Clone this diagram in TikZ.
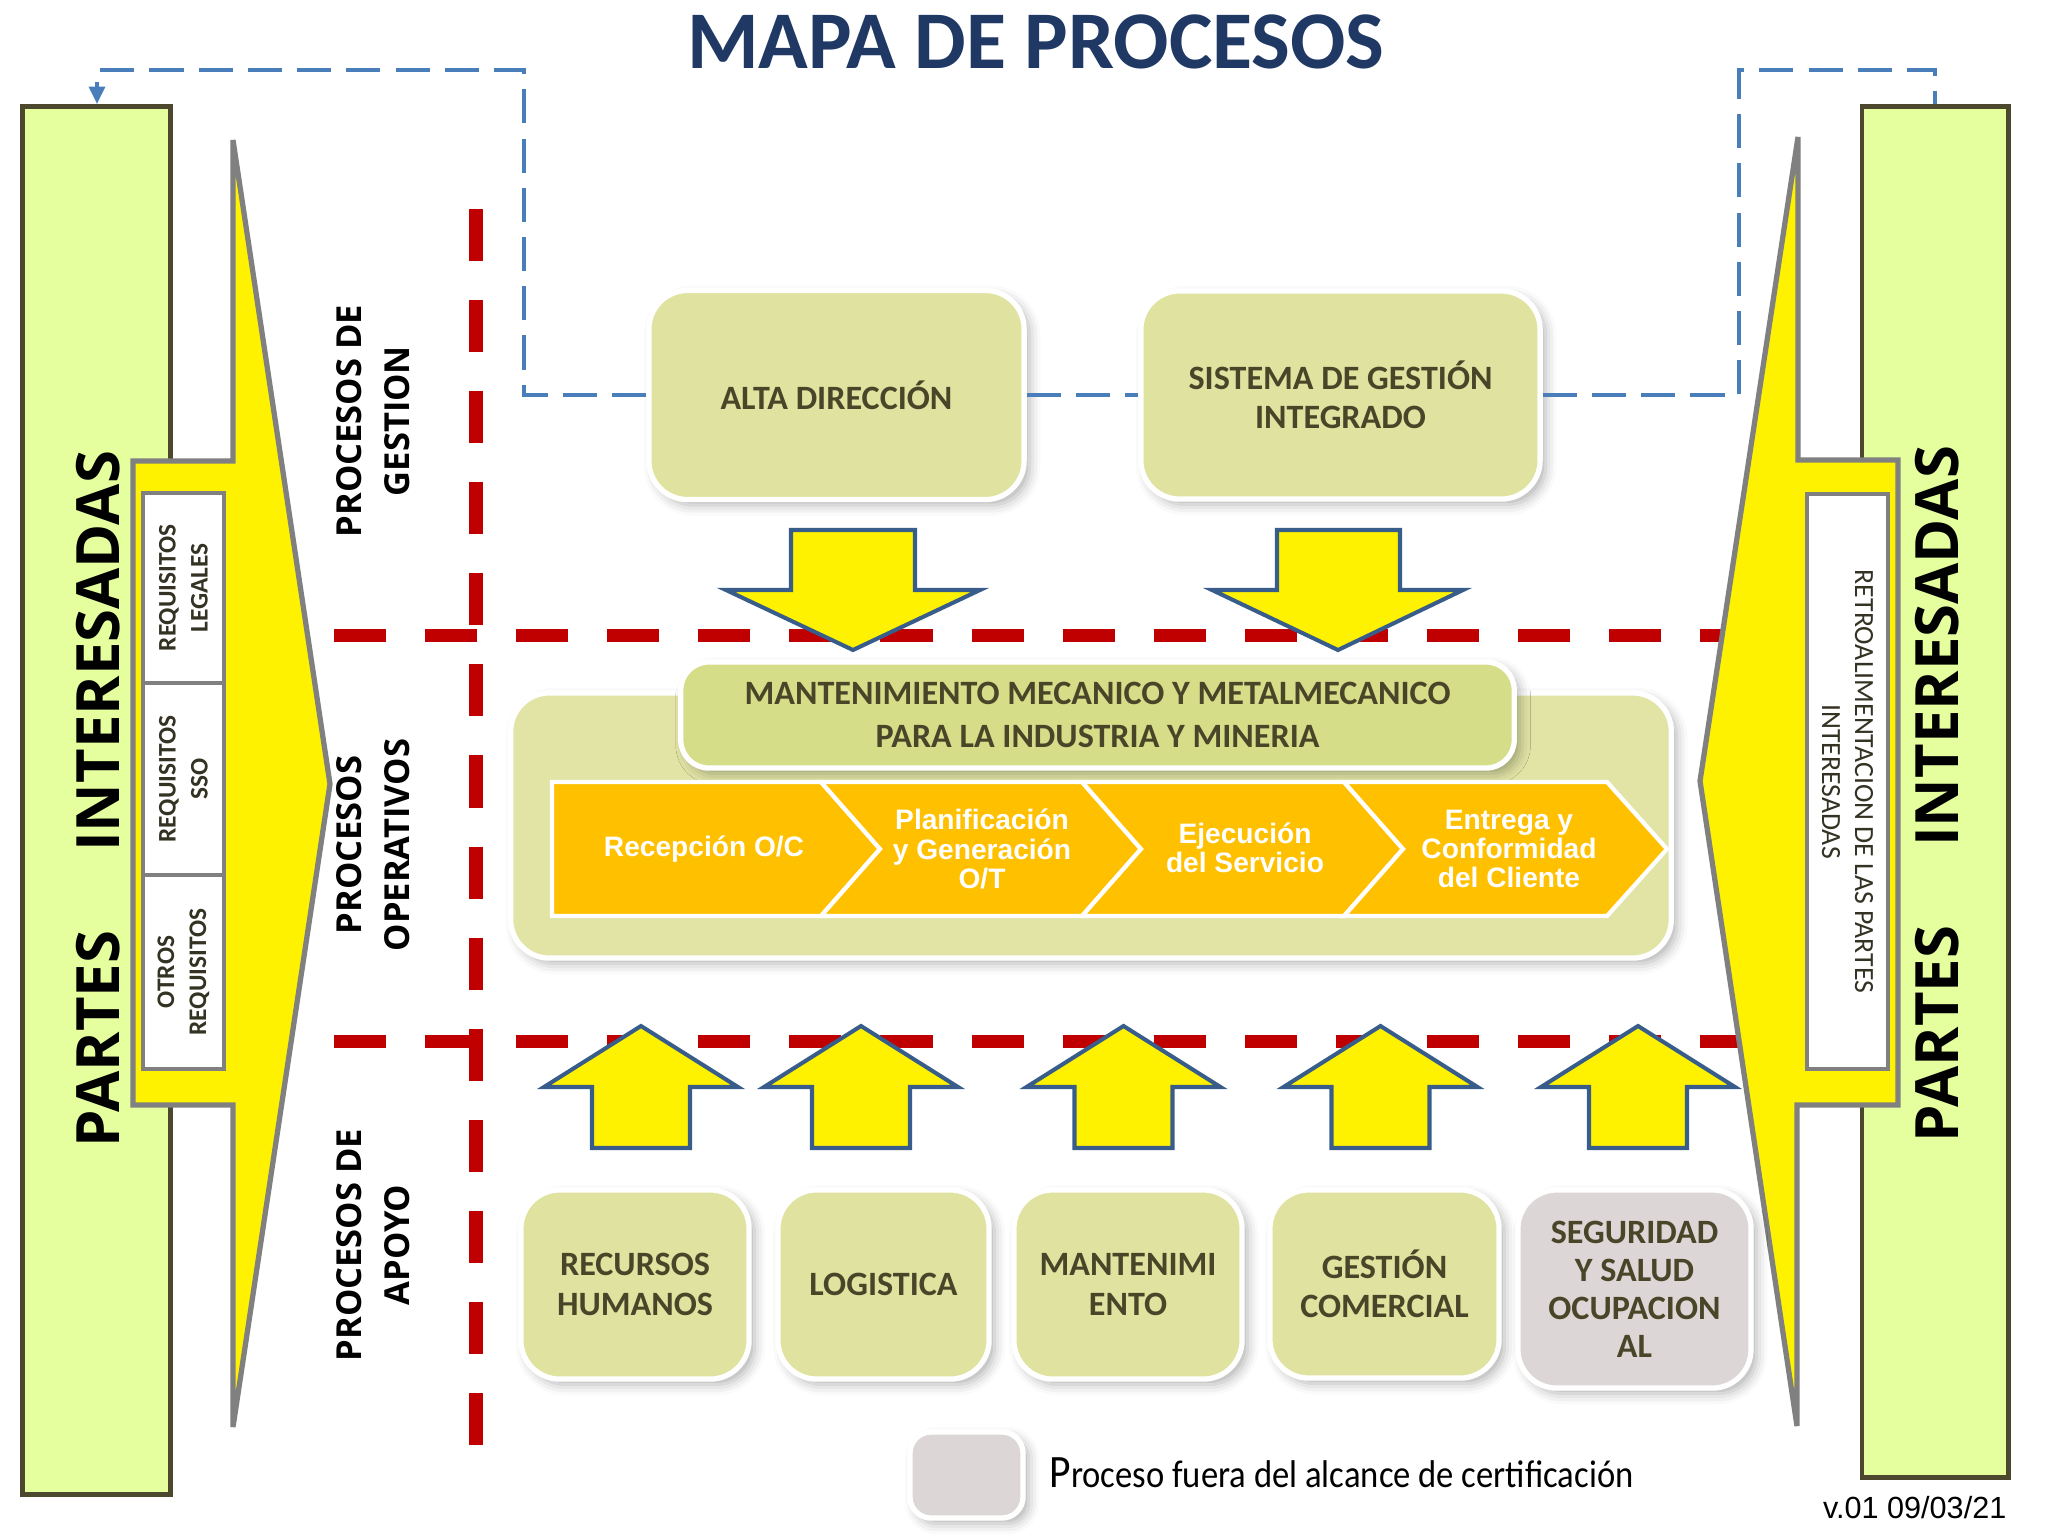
\documentclass[tikz,border=0pt]{standalone}
\usepackage{fontspec}
\setmainfont{Carlito}
\newfontfamily\osans{Open Sans}
\newfontfamily\arialf{Liberation Sans}
\usetikzlibrary{shadows.blur,arrows.meta}
\definecolor{gfill}{RGB}{229,255,158}
\definecolor{gborder}{RGB}{75,72,45}
\definecolor{gline}{RGB}{128,128,128}
\definecolor{olivebox}{RGB}{224,226,160}
\definecolor{contfill}{RGB}{226,228,166}
\definecolor{hdrfill}{RGB}{214,221,136}
\definecolor{mauve}{RGB}{221,214,214}
\definecolor{amber}{RGB}{255,192,0}
\definecolor{dblue}{RGB}{74,126,187}
\definecolor{arrowblue}{RGB}{56,93,138}
\definecolor{dred}{RGB}{192,0,0}
\definecolor{titleblue}{RGB}{31,56,100}
\definecolor{olivetext}{RGB}{73,69,41}
\definecolor{reqtext}{RGB}{52,50,34}
\begin{document}
\begin{tikzpicture}[x=0.01cm,y=-0.01cm,
  reddash/.style={draw=dred,line width=3.7pt,dash pattern=on 14.8pt off 11.1pt},
  bluedash/.style={draw=dblue,line width=1.15pt,dash pattern=on 9.7pt off 4.3pt},
  gbar/.style={draw=gborder,line width=1.4pt,fill=gfill,inner sep=0pt},
  bigarrow/.style={fill=yellow,draw=gline,line width=1.5pt},
  reqbox/.style={draw=gline,line width=1.2pt,fill=white,text=reqtext,align=center,inner sep=0pt,
    font=\fontsize{7.2}{9.1}\selectfont\bfseries},
  pbox/.style={draw=white,line width=1.5pt,rounded corners=11pt,fill=olivebox,
    blur shadow={shadow xshift=1.6pt,shadow yshift=-1.6pt,shadow blur radius=3pt,shadow opacity=30},
    font=\fontsize{9.7}{11.2}\selectfont\bfseries,text=olivetext,align=center,inner sep=2pt},
  blockarrow/.style={fill=yellow,draw=arrowblue,line width=1.15pt},
  chev/.style={fill=amber,draw=white,line width=1.2pt},
  chevtext/.style={text=white,font=\arialf\bfseries\fontsize{8}{8.3}\selectfont,align=center},
  sidelabel/.style={rotate=90,font=\osans\bfseries\fontsize{9.8}{13.7}\selectfont,align=center},
  pitext/.style={rotate=90,font=\osans\bfseries\fontsize{17}{20}\selectfont,inner sep=0pt}]
\useasboundingbox (0,0) rectangle (2048,1536);

% red dashed separators
\draw[reddash] (476,209) -- (476,1445);
\draw[reddash] (334,635) -- (1745,635);
\draw[reddash] (334,1041) -- (1760,1041);

% side bars
\node[gbar,minimum width=1.47cm,minimum height=13.87cm] (leftpi) at (96.5,800.5) {};
\node[gbar,minimum width=1.46cm,minimum height=13.70cm] (rightpi) at (1935,792) {};

% big yellow arrows
\draw[bigarrow] (233,140) -- (330,784) -- (233,1427) -- (233,1105) -- (133,1105) -- (133,461) -- (233,461) -- cycle;
\draw[bigarrow] (1798,137) -- (1700,781) -- (1797,1426) -- (1797,1105) -- (1898,1105) -- (1898,460) -- (1798,460) -- cycle;

% requirement boxes
\node[reqbox,rotate=90,minimum width=1.90cm,minimum height=0.81cm] (rq1) at (183.5,588) {REQUISITOS\\LEGALES};
\node[reqbox,rotate=90,minimum width=1.92cm,minimum height=0.81cm] (rq2) at (183.5,779) {REQUISITOS\\SSO};
\node[reqbox,rotate=90,minimum width=1.94cm,minimum height=0.81cm] (rq3) at (183.5,972) {OTROS\\REQUISITOS};
\node[reqbox,rotate=-90,minimum width=5.75cm,minimum height=0.81cm,
  font=\fontsize{7.9}{9.4}\selectfont] (retro) at (1847.5,781.5) {RETROALIMENTACION DE LAS PARTES\\INTERESADAS};

% PARTES INTERESADAS
\node[pitext] (ptl) at (98,799) {PARTES\ \hspace{18pt}INTERESADAS};
\node[pitext] (ptr) at (1937.5,794) {PARTES\ \hspace{18pt}INTERESADAS};

% side labels
\node[sidelabel] (lg) at (373.5,421) {PROCESOS DE\\GESTION};
\node[sidelabel] (lo) at (373.5,845) {PROCESOS\\OPERATIVOS};
\node[sidelabel] (la) at (373.5,1245) {PROCESOS DE\\APOYO};

% management boxes
\node[pbox,minimum width=3.75cm,minimum height=2.09cm] (alta) at (836.5,395) {ALTA DIRECCIÓN};
\node[pbox,minimum width=3.99cm,minimum height=2.08cm] (sgi) at (1340.5,395) {SISTEMA DE GESTIÓN\\INTEGRADO};

% blue dashed feedback
\coordinate (b1) at (524,70);
\coordinate (b2) at (97,70);
\coordinate (b3) at (1739,70);
\coordinate (b4) at (1935,70);
\draw[bluedash,-{Triangle[length=5pt,width=4.5pt]}] (alta.west) -| (b1) -- (b2) -- (b2 |- leftpi.north);
\draw[bluedash] (sgi.east) -| (b3) -- (b4) -- (rightpi.north);
\draw[bluedash] (alta.east) -- (sgi.west);

% down arrows
\draw[blockarrow] (791,530) -- (915,530) -- (915,590) -- (980,590) -- (853,650) -- (726,590) -- (791,590) -- cycle;
\draw[blockarrow] (1277,530) -- (1400,530) -- (1400,590) -- (1463,590) -- (1338,650) -- (1212,590) -- (1277,590) -- cycle;

% operational block
\node[pbox,fill=contfill,minimum width=11.6cm,minimum height=2.65cm] (ops) at (1091,825.5) {};
\node[pbox,fill=hdrfill,rounded corners=8pt,minimum width=8.33cm,minimum height=1.06cm,
  font=\fontsize{9.7}{12}\selectfont\bfseries] (hdr) at (1097.5,715) {MANTENIMIENTO MECANICO Y METALMECANICO\\PARA LA INDUSTRIA Y MINERIA};

\draw[chev] (552,782) -- (821,782) -- (880,849) -- (821,916) -- (552,916) -- cycle;
\draw[chev] (821,782) -- (1082,782) -- (1141,849) -- (1082,916) -- (821,916) -- (880,849) -- cycle;
\draw[chev] (1082,782) -- (1344,782) -- (1403,849) -- (1344,916) -- (1082,916) -- (1141,849) -- cycle;
\draw[chev] (1344,782) -- (1607,782) -- (1667,849) -- (1607,916) -- (1344,916) -- (1403,849) -- cycle;
\node[chevtext] (c1) at (704,849) {Recepción O/C};
\node[chevtext] (c2) at (982,849) {Planificación\\y Generación\\O/T};
\node[chevtext] (c3) at (1245,848) {Ejecución\\del Servicio};
\node[chevtext] (c4) at (1509,849) {Entrega y\\Conformidad\\del Cliente};

% up arrows
\foreach \c in {641,861,1123.5,1380.5,1638}{
  \draw[blockarrow] ({\c-49},1148) -- ({\c+49},1148) -- ({\c+49},1087) -- ({\c+97},1087) -- (\c,1026) -- ({\c-97},1087) -- ({\c-49},1087) -- cycle;
}

% support boxes
\node[pbox,minimum width=2.28cm,minimum height=1.89cm] (rh) at (635,1284.5) {RECURSOS\\HUMANOS};
\node[pbox,minimum width=2.11cm,minimum height=1.89cm] (log) at (883.5,1284.5) {LOGISTICA};
\node[pbox,minimum width=2.28cm,minimum height=1.89cm] (mant) at (1128,1284.5) {MANTENIMI\\ENTO};
\node[pbox,minimum width=2.29cm,minimum height=1.88cm] (gc) at (1384.5,1284) {GESTIÓN\\COMERCIAL};
\node[pbox,fill=mauve,minimum width=2.33cm,minimum height=1.98cm,
  font=\fontsize{9.7}{10.8}\selectfont\bfseries] (sso) at (1634.5,1289) {SEGURIDAD\\Y SALUD\\OCUPACION\\AL};

% legend
\node[pbox,fill=mauve,rounded corners=6pt,minimum width=1.13cm,minimum height=0.86cm] (leg) at (966.5,1475) {};
\node[anchor=base west,inner sep=0pt] (legt) at (1049,1487) {\scalebox{0.895}[1]{\fontsize{13.2}{14}\selectfont P\fontsize{11}{13}\selectfont roceso fuera del alcance de certificación}};

% title and version
\node[anchor=base,inner sep=0pt,text=titleblue,font=\fontsize{23.3}{27}\selectfont\bfseries] (title) at (1036,68) {MAPA DE PROCESOS};
\node[anchor=base east,inner sep=0pt,font=\arialf\fontsize{8.7}{10}\selectfont] (ver) at (2007,1518) {v.01 09/03/21};
\end{tikzpicture}
\end{document}
